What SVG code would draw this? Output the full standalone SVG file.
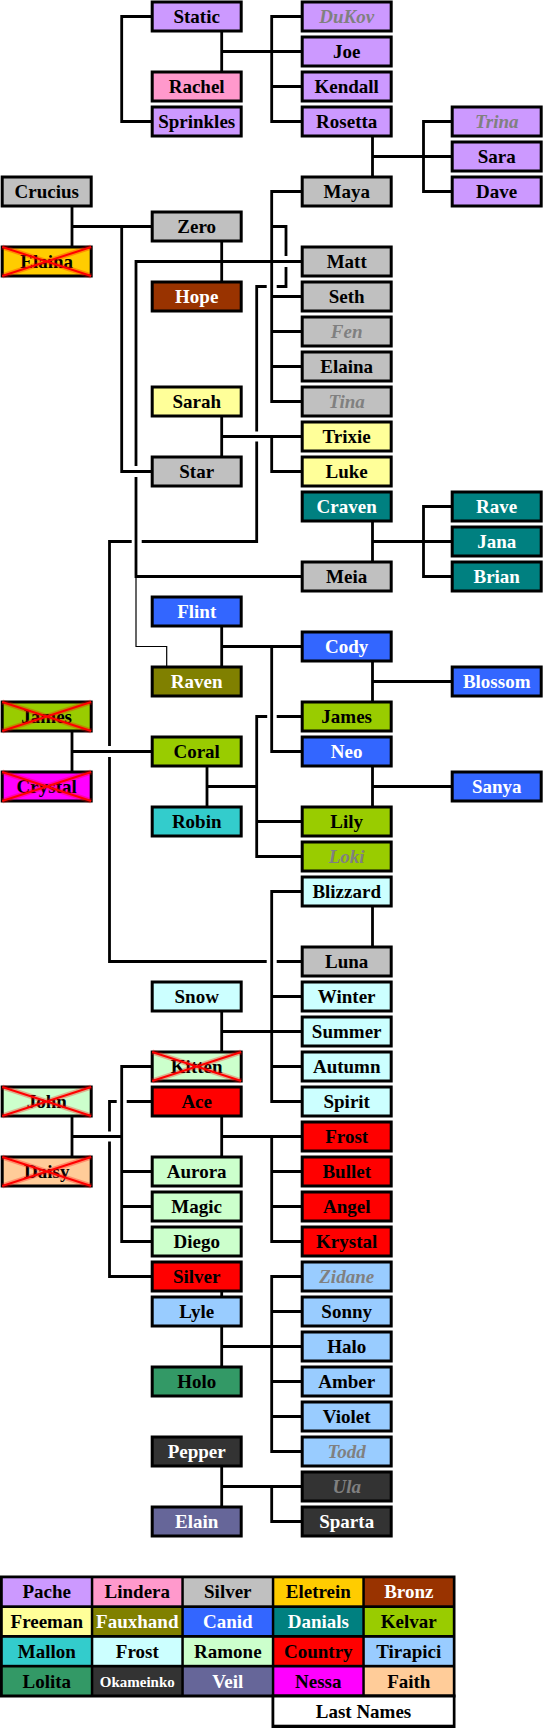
<svg xmlns="http://www.w3.org/2000/svg" width="555" height="1728" viewBox="0 0 555 1728">
<defs>
<style>
text{font-family:"Liberation Serif","Times New Roman",serif;font-weight:bold;font-size:19px;text-anchor:middle;fill:#000}
.w{fill:#fff}
.d{fill:#808080;font-style:italic}
.b{stroke:#000;stroke-width:3}
.pa{fill:#CC99FF}.li{fill:#FF99CC}.si{fill:#C0C0C0}.el{fill:#FFCC00}.br{fill:#993300}
.fr{fill:#FFFF99}.fa{fill:#808000}.ca{fill:#3366FF}.da{fill:#008080}.ke{fill:#99CC00}
.ma{fill:#33CCCC}.fo{fill:#CCFFFF}.ra{fill:#CCFFCC}.co{fill:#FF0000}.ti{fill:#99CCFF}
.lo{fill:#339966}.ok{fill:#333333}.ve{fill:#666699}.ne{fill:#FF00FF}.fh{fill:#FFCC99}
.x1{stroke:#FF0000;stroke-opacity:0.3;stroke-width:5}
.x2{stroke:#FF0000;stroke-width:2}
#connectors path{fill:none;stroke:#000;stroke-width:2.8;stroke-linejoin:miter}
#connectors path.thin{stroke-width:1.2}
</style>
</defs>
<rect x="0" y="0" width="555" height="1728" fill="#fff"/>
<g id="connectors">
<path d="M152,16.5H121.7V121.5H152"/>
<path d="M221.7,16.5V86.5M221.7,51.5H302"/>
<path d="M302,16.5H271.7V121.5H302M271.7,86.5H302"/>
<path d="M372.5,121.5V191.5M372.5,156.5H452M452,121.5H423.5V191.5H452"/>
<path d="M72,191.5V261.5M72,226.5H152M121.7,226.5V471.5H152"/>
<path d="M221.7,226.5V296.5"/>
<path d="M302,261.5H136V466M136,477V576.5H302"/>
<path class="thin" d="M136,576.5V646.5H166.7V668"/>
<path d="M302,191.5H271.7V401.5H302M271.7,296.5H302M271.7,331.5H302M271.7,366.5H302"/>
<path d="M271.7,226.5H286V256M286,267V286.5H276.7M266.7,286.5H256.7V431.5M256.7,441.5V541.5H141.7M131.7,541.5H109.5V746M109.5,757V961.5H266.7M276.7,961.5H302"/>
<path d="M221.7,401.5V471.5M221.7,436.5H302M271.7,436.5V471.5H302"/>
<path d="M372.5,506.5V576.5M372.5,541.5H452M452,506.5H423.5V576.5H452"/>
<path d="M221.7,611.5V681.5M221.7,646.5H302M271.7,646.5V751.5H302"/>
<path d="M372.5,646.5V716.5M372.5,681.5H452"/>
<path d="M72,716.5V786.5M72,751.5H152"/>
<path d="M207,751.5V821.5M207,786.5H256.7M267.2,716.5H256.7V856.5H302M276.7,716.5H302M256.7,821.5H302"/>
<path d="M372.5,751.5V821.5M372.5,786.5H452"/>
<path d="M372.5,891.5V961.5"/>
<path d="M221.7,996.5V1066.5M221.7,1031.5H302M302,891.5H271.7V1101.5H302M271.7,996.5H302M271.7,1066.5H302"/>
<path d="M72,1101.5V1171.5M72,1136.5H121.7M152,1066.5H121.7V1241.5H152M121.7,1171.5H152M121.7,1206.5H152"/>
<path d="M116.7,1101.5H109.5V1131.5M109.5,1141.5V1276.5H152M126.7,1101.5H152"/>
<path d="M221.7,1101.5V1171.5M221.7,1136.5H302M271.7,1136.5V1241.5H302M271.7,1171.5H302M271.7,1206.5H302"/>
<path d="M221.7,1276.5V1311.5"/>
<path d="M221.7,1311.5V1381.5M221.7,1346.5H302M302,1276.5H271.7V1451.5H302M271.7,1311.5H302M271.7,1381.5H302M271.7,1416.5H302"/>
<path d="M221.7,1451.5V1521.5M221.7,1486.5H302M271.7,1486.5V1521.5H302"/>
</g>

<g id="n-static"><rect class="b pa" x="152.2" y="2" width="89" height="29"/><text x="196.7" y="23">Static</text></g>
<g id="n-rachel"><rect class="b li" x="152.2" y="72" width="89" height="29"/><text x="196.7" y="93">Rachel</text></g>
<g id="n-sprinkles"><rect class="b pa" x="152.2" y="107" width="89" height="29"/><text x="196.7" y="128">Sprinkles</text></g>
<g id="n-zero"><rect class="b si" x="152.2" y="212" width="89" height="29"/><text x="196.7" y="233">Zero</text></g>
<g id="n-hope"><rect class="b br" x="152.2" y="282" width="89" height="29"/><text class="w" x="196.7" y="303">Hope</text></g>
<g id="n-sarah"><rect class="b fr" x="152.2" y="387" width="89" height="29"/><text x="196.7" y="408">Sarah</text></g>
<g id="n-star"><rect class="b si" x="152.2" y="457" width="89" height="29"/><text x="196.7" y="478">Star</text></g>
<g id="n-flint"><rect class="b ca" x="152.2" y="597" width="89" height="29"/><text class="w" x="196.7" y="618">Flint</text></g>
<g id="n-raven"><rect class="b fa" x="152.2" y="667" width="89" height="29"/><text class="w" x="196.7" y="688">Raven</text></g>
<g id="n-coral"><rect class="b ke" x="152.2" y="737" width="89" height="29"/><text x="196.7" y="758">Coral</text></g>
<g id="n-robin"><rect class="b ma" x="152.2" y="807" width="89" height="29"/><text x="196.7" y="828">Robin</text></g>
<g id="n-snow"><rect class="b fo" x="152.2" y="982" width="89" height="29"/><text x="196.7" y="1003">Snow</text></g>
<g id="n-kitten"><rect class="b ra" x="152.2" y="1052" width="89" height="29"/><text x="196.7" y="1073">Kitten</text><path class="x1" d="M152.2,1052L241.2,1081M152.2,1081L241.2,1052"/><path class="x2" d="M152.2,1052L241.2,1081M152.2,1081L241.2,1052"/></g>
<g id="n-ace"><rect class="b co" x="152.2" y="1087" width="89" height="29"/><text x="196.7" y="1108">Ace</text></g>
<g id="n-aurora"><rect class="b ra" x="152.2" y="1157" width="89" height="29"/><text x="196.7" y="1178">Aurora</text></g>
<g id="n-magic"><rect class="b ra" x="152.2" y="1192" width="89" height="29"/><text x="196.7" y="1213">Magic</text></g>
<g id="n-diego"><rect class="b ra" x="152.2" y="1227" width="89" height="29"/><text x="196.7" y="1248">Diego</text></g>
<g id="n-silver"><rect class="b co" x="152.2" y="1262" width="89" height="29"/><text x="196.7" y="1283">Silver</text></g>
<g id="n-lyle"><rect class="b ti" x="152.2" y="1297" width="89" height="29"/><text x="196.7" y="1318">Lyle</text></g>
<g id="n-holo"><rect class="b lo" x="152.2" y="1367" width="89" height="29"/><text x="196.7" y="1388">Holo</text></g>
<g id="n-pepper"><rect class="b ok" x="152.2" y="1437" width="89" height="29"/><text class="w" x="196.7" y="1458">Pepper</text></g>
<g id="n-elain"><rect class="b ve" x="152.2" y="1507" width="89" height="29"/><text class="w" x="196.7" y="1528">Elain</text></g>

<g id="n-crucius"><rect class="b si" x="2.2" y="177" width="89" height="29"/><text x="46.7" y="198">Crucius</text></g>
<g id="n-elaina1"><rect class="b el" x="2.2" y="247" width="89" height="29"/><text x="46.7" y="268">Elaina</text><path class="x1" d="M2.2,247L91.2,276M2.2,276L91.2,247"/><path class="x2" d="M2.2,247L91.2,276M2.2,276L91.2,247"/></g>
<g id="n-james1"><rect class="b ke" x="2.2" y="702" width="89" height="29"/><text x="46.7" y="723">James</text><path class="x1" d="M2.2,702L91.2,731M2.2,731L91.2,702"/><path class="x2" d="M2.2,702L91.2,731M2.2,731L91.2,702"/></g>
<g id="n-crystal"><rect class="b ne" x="2.2" y="772" width="89" height="29"/><text x="46.7" y="793">Crystal</text><path class="x1" d="M2.2,772L91.2,801M2.2,801L91.2,772"/><path class="x2" d="M2.2,772L91.2,801M2.2,801L91.2,772"/></g>
<g id="n-john"><rect class="b ra" x="2.2" y="1087" width="89" height="29"/><text x="46.7" y="1108">John</text><path class="x1" d="M2.2,1087L91.2,1116M2.2,1116L91.2,1087"/><path class="x2" d="M2.2,1087L91.2,1116M2.2,1116L91.2,1087"/></g>
<g id="n-daisy"><rect class="b fh" x="2.2" y="1157" width="89" height="29"/><text x="46.7" y="1178">Daisy</text><path class="x1" d="M2.2,1157L91.2,1186M2.2,1186L91.2,1157"/><path class="x2" d="M2.2,1157L91.2,1186M2.2,1186L91.2,1157"/></g>

<g id="n-dukov"><rect class="b pa" x="302.2" y="2" width="89" height="29"/><text class="d" x="346.7" y="23">DuKov</text></g>
<g id="n-joe"><rect class="b pa" x="302.2" y="37" width="89" height="29"/><text x="346.7" y="58">Joe</text></g>
<g id="n-kendall"><rect class="b pa" x="302.2" y="72" width="89" height="29"/><text x="346.7" y="93">Kendall</text></g>
<g id="n-rosetta"><rect class="b pa" x="302.2" y="107" width="89" height="29"/><text x="346.7" y="128">Rosetta</text></g>
<g id="n-maya"><rect class="b si" x="302.2" y="177" width="89" height="29"/><text x="346.7" y="198">Maya</text></g>
<g id="n-matt"><rect class="b si" x="302.2" y="247" width="89" height="29"/><text x="346.7" y="268">Matt</text></g>
<g id="n-seth"><rect class="b si" x="302.2" y="282" width="89" height="29"/><text x="346.7" y="303">Seth</text></g>
<g id="n-fen"><rect class="b si" x="302.2" y="317" width="89" height="29"/><text class="d" x="346.7" y="338">Fen</text></g>
<g id="n-elaina2"><rect class="b si" x="302.2" y="352" width="89" height="29"/><text x="346.7" y="373">Elaina</text></g>
<g id="n-tina"><rect class="b si" x="302.2" y="387" width="89" height="29"/><text class="d" x="346.7" y="408">Tina</text></g>
<g id="n-trixie"><rect class="b fr" x="302.2" y="422" width="89" height="29"/><text x="346.7" y="443">Trixie</text></g>
<g id="n-luke"><rect class="b fr" x="302.2" y="457" width="89" height="29"/><text x="346.7" y="478">Luke</text></g>
<g id="n-craven"><rect class="b da" x="302.2" y="492" width="89" height="29"/><text class="w" x="346.7" y="513">Craven</text></g>
<g id="n-meia"><rect class="b si" x="302.2" y="562" width="89" height="29"/><text x="346.7" y="583">Meia</text></g>
<g id="n-cody"><rect class="b ca" x="302.2" y="632" width="89" height="29"/><text class="w" x="346.7" y="653">Cody</text></g>
<g id="n-james2"><rect class="b ke" x="302.2" y="702" width="89" height="29"/><text x="346.7" y="723">James</text></g>
<g id="n-neo"><rect class="b ca" x="302.2" y="737" width="89" height="29"/><text class="w" x="346.7" y="758">Neo</text></g>
<g id="n-lily"><rect class="b ke" x="302.2" y="807" width="89" height="29"/><text x="346.7" y="828">Lily</text></g>
<g id="n-loki"><rect class="b ke" x="302.2" y="842" width="89" height="29"/><text class="d" x="346.7" y="863">Loki</text></g>
<g id="n-blizzard"><rect class="b fo" x="302.2" y="877" width="89" height="29"/><text x="346.7" y="898">Blizzard</text></g>
<g id="n-luna"><rect class="b si" x="302.2" y="947" width="89" height="29"/><text x="346.7" y="968">Luna</text></g>
<g id="n-winter"><rect class="b fo" x="302.2" y="982" width="89" height="29"/><text x="346.7" y="1003">Winter</text></g>
<g id="n-summer"><rect class="b fo" x="302.2" y="1017" width="89" height="29"/><text x="346.7" y="1038">Summer</text></g>
<g id="n-autumn"><rect class="b fo" x="302.2" y="1052" width="89" height="29"/><text x="346.7" y="1073">Autumn</text></g>
<g id="n-spirit"><rect class="b fo" x="302.2" y="1087" width="89" height="29"/><text x="346.7" y="1108">Spirit</text></g>
<g id="n-frost"><rect class="b co" x="302.2" y="1122" width="89" height="29"/><text x="346.7" y="1143">Frost</text></g>
<g id="n-bullet"><rect class="b co" x="302.2" y="1157" width="89" height="29"/><text x="346.7" y="1178">Bullet</text></g>
<g id="n-angel"><rect class="b co" x="302.2" y="1192" width="89" height="29"/><text x="346.7" y="1213">Angel</text></g>
<g id="n-krystal"><rect class="b co" x="302.2" y="1227" width="89" height="29"/><text x="346.7" y="1248">Krystal</text></g>
<g id="n-zidane"><rect class="b ti" x="302.2" y="1262" width="89" height="29"/><text class="d" x="346.7" y="1283">Zidane</text></g>
<g id="n-sonny"><rect class="b ti" x="302.2" y="1297" width="89" height="29"/><text x="346.7" y="1318">Sonny</text></g>
<g id="n-halo"><rect class="b ti" x="302.2" y="1332" width="89" height="29"/><text x="346.7" y="1353">Halo</text></g>
<g id="n-amber"><rect class="b ti" x="302.2" y="1367" width="89" height="29"/><text x="346.7" y="1388">Amber</text></g>
<g id="n-violet"><rect class="b ti" x="302.2" y="1402" width="89" height="29"/><text x="346.7" y="1423">Violet</text></g>
<g id="n-todd"><rect class="b ti" x="302.2" y="1437" width="89" height="29"/><text class="d" x="346.7" y="1458">Todd</text></g>
<g id="n-ula"><rect class="b ok" x="302.2" y="1472" width="89" height="29"/><text class="d" x="346.7" y="1493">Ula</text></g>
<g id="n-sparta"><rect class="b ok" x="302.2" y="1507" width="89" height="29"/><text class="w" x="346.7" y="1528">Sparta</text></g>

<g id="n-trina"><rect class="b pa" x="452.2" y="107" width="89" height="29"/><text class="d" x="496.7" y="128">Trina</text></g>
<g id="n-sara"><rect class="b pa" x="452.2" y="142" width="89" height="29"/><text x="496.7" y="163">Sara</text></g>
<g id="n-dave"><rect class="b pa" x="452.2" y="177" width="89" height="29"/><text x="496.7" y="198">Dave</text></g>
<g id="n-rave"><rect class="b da" x="452.2" y="492" width="89" height="29"/><text class="w" x="496.7" y="513">Rave</text></g>
<g id="n-jana"><rect class="b da" x="452.2" y="527" width="89" height="29"/><text class="w" x="496.7" y="548">Jana</text></g>
<g id="n-brian"><rect class="b da" x="452.2" y="562" width="89" height="29"/><text class="w" x="496.7" y="583">Brian</text></g>
<g id="n-blossom"><rect class="b ca" x="452.2" y="667" width="89" height="29"/><text class="w" x="496.7" y="688">Blossom</text></g>
<g id="n-sanya"><rect class="b ca" x="452.2" y="772" width="89" height="29"/><text class="w" x="496.7" y="793">Sanya</text></g>

<g id="legend">
<rect x="0" y="1575.5" width="455.5" height="122" fill="#000"/>
<rect class="pa" x="2.8" y="1578.3" width="88" height="27"/><text x="46.8" y="1598.3">Pache</text>
<rect class="li" x="93.3" y="1578.3" width="88" height="27"/><text x="137.3" y="1598.3">Lindera</text>
<rect class="si" x="183.8" y="1578.3" width="88" height="27"/><text x="227.8" y="1598.3">Silver</text>
<rect class="el" x="274.3" y="1578.3" width="88" height="27"/><text x="318.3" y="1598.3">Eletrein</text>
<rect class="br" x="364.8" y="1578.3" width="88" height="27"/><text class="w" x="408.8" y="1598.3">Bronz</text>
<rect class="fr" x="2.8" y="1608" width="88" height="27"/><text x="46.8" y="1628">Freeman</text>
<rect class="fa" x="93.3" y="1608" width="88" height="27"/><text class="w" x="137.3" y="1628">Fauxhand</text>
<rect class="ca" x="183.8" y="1608" width="88" height="27"/><text class="w" x="227.8" y="1628">Canid</text>
<rect class="da" x="274.3" y="1608" width="88" height="27"/><text class="w" x="318.3" y="1628">Danials</text>
<rect class="ke" x="364.8" y="1608" width="88" height="27"/><text x="408.8" y="1628">Kelvar</text>
<rect class="ma" x="2.8" y="1637.8" width="88" height="27"/><text x="46.8" y="1657.8">Mallon</text>
<rect class="fo" x="93.3" y="1637.8" width="88" height="27"/><text x="137.3" y="1657.8">Frost</text>
<rect class="ra" x="183.8" y="1637.8" width="88" height="27"/><text x="227.8" y="1657.8">Ramone</text>
<rect class="co" x="274.3" y="1637.8" width="88" height="27"/><text x="318.3" y="1657.8">Country</text>
<rect class="ti" x="364.8" y="1637.8" width="88" height="27"/><text x="408.8" y="1657.8">Tirapici</text>
<rect class="lo" x="2.8" y="1667.5" width="88" height="27"/><text x="46.8" y="1687.5">Lolita</text>
<rect class="ok" x="93.3" y="1667.5" width="88" height="27"/><text class="w" x="137.3" y="1686.5" style="font-size:15px">Okameinko</text>
<rect class="ve" x="183.8" y="1667.5" width="88" height="27"/><text class="w" x="227.8" y="1687.5">Veil</text>
<rect class="ne" x="274.3" y="1667.5" width="88" height="27"/><text x="318.3" y="1687.5">Nessa</text>
<rect class="fh" x="364.8" y="1667.5" width="88" height="27"/><text x="408.8" y="1687.5">Faith</text>
<rect x="271.5" y="1694.5" width="184" height="33.5" fill="#000"/>
<rect x="274.3" y="1697.5" width="178.5" height="27.2" fill="#fff"/><text x="363.5" y="1717.5">Last Names</text>
</g>
</svg>
